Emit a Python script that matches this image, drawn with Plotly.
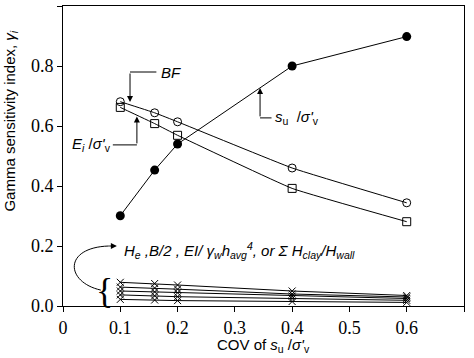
import plotly.graph_objects as go

cov = [0.1, 0.16, 0.2, 0.4, 0.6]
bf = [0.681, 0.644, 0.614, 0.460, 0.344]
ei = [0.662, 0.608, 0.569, 0.392, 0.281]
su = [0.301, 0.453, 0.540, 0.800, 0.898]
small1 = [0.079, 0.075, 0.070, 0.050, 0.035]
small2 = [0.063, 0.060, 0.056, 0.040, 0.030]
small3 = [0.050, 0.047, 0.044, 0.033, 0.025]
small4 = [0.037, 0.034, 0.031, 0.025, 0.019]
small5 = [0.022, 0.020, 0.018, 0.015, 0.012]

xticks = [0, 0.1, 0.2, 0.3, 0.4, 0.5, 0.6, 0.7]
xticklabels = ["0", "0.1", "0.2", "0.3", "0.4", "0.5", "0.6", "0.7"]
yticks = [0, 0.2, 0.4, 0.6, 0.8, 1.0]
yticklabels = ["0.0", "0.2", "0.4", "0.6", "0.8", "1.0"]

fig = go.Figure()
curve = dict(color="black", width=1, shape="spline", smoothing=0.3)
straight = dict(color="black", width=1)
fig.add_trace(go.Scatter(x=cov, y=bf, mode="lines+markers", line=curve,
                         marker=dict(symbol="circle-open", size=8, color="black", line=dict(width=1))))
fig.add_trace(go.Scatter(x=cov, y=ei, mode="lines+markers", line=curve,
                         marker=dict(symbol="square-open", size=8, color="black", line=dict(width=1))))
fig.add_trace(go.Scatter(x=cov, y=su, mode="lines+markers", line=straight,
                         marker=dict(symbol="circle", size=9, color="black")))
for s in [small1, small2, small3, small4, small5]:
    fig.add_trace(go.Scatter(x=cov, y=s, mode="lines+markers", line=straight,
                             marker=dict(symbol="x-thin-open", size=7, color="black",
                                         line=dict(width=1, color="black"))))

lw = dict(color="black", width=1)
arr = dict(showarrow=True, arrowhead=2, arrowsize=1.2, arrowwidth=1, arrowcolor="black",
           text="", axref="x", ayref="y")
sans = "Liberation Sans, Arial"
# BF leader
fig.add_shape(type="line", x0=0.117, y0=0.78, x1=0.163, y1=0.78, line=lw)
fig.add_annotation(x=0.117, y=0.680, ax=0.117, ay=0.78, **arr)
fig.add_annotation(x=0.168, y=0.78, text="<i>BF</i>", showarrow=False, xanchor="left",
                   font=dict(family=sans, size=15, color="black"))
# Ei leader
fig.add_shape(type="line", x0=0.087, y0=0.537, x1=0.129, y1=0.537, line=lw)
fig.add_annotation(x=0.129, y=0.632, ax=0.129, ay=0.537, **arr)
fig.add_annotation(x=0.087, y=0.537, text="<i>E<sub>i</sub></i> /<i>σ'</i><sub>v</sub>",
                   showarrow=False, xanchor="right",
                   font=dict(family=sans, size=15, color="black"))
# su leader
fig.add_shape(type="line", x0=0.344, y0=0.627, x1=0.364, y1=0.627, line=lw)
fig.add_annotation(x=0.344, y=0.727, ax=0.344, ay=0.627, **arr)
fig.add_annotation(x=0.367, y=0.627, text="<i>s</i><sub>u</sub>  /<i>σ'</i><sub>v</sub>",
                   showarrow=False, xanchor="left",
                   font=dict(family=sans, size=15, color="black"))
# small-series label
fig.add_annotation(x=0.103, y=0.185,
                   text="<i>H<sub>e</sub> ,B/2 , EI/ γ<sub>w</sub>h<sub>avg</sub><sup>4</sup>, or Σ H<sub>clay</sub>/H<sub>wall</sub></i>",
                   showarrow=False, xanchor="left",
                   font=dict(family=sans, size=15, color="black"))
fig.add_annotation(x=0.073, y=0.05, text="{", showarrow=False,
                   font=dict(family="Liberation Serif", size=36, color="black"))
fig.add_shape(type="path", path="M 0.066,0.053 C 0.004,0.08 0.0,0.195 0.08,0.2",
              line=lw, xref="x", yref="y")
fig.add_annotation(x=0.094, y=0.2, ax=0.078, ay=0.2, **arr)

# axis titles
fig.add_annotation(xref="paper", yref="paper", x=0.5, y=-0.133, yanchor="middle",
                   text="COV of <i>s</i><sub>u</sub> /<i>σ'</i><sub>v</sub>", showarrow=False,
                   font=dict(family=sans, size=15, color="black"))
fig.add_annotation(xref="paper", yref="paper", x=-0.132, y=0.615, xanchor="center",
                   yanchor="middle", textangle=-90,
                   text="Gamma sensitivity index, <i>γ<sub>i</sub></i>", showarrow=False,
                   font=dict(family=sans, size=15, color="black"))

fig.update_layout(
    width=474, height=358, showlegend=False,
    margin=dict(l=63, r=10, t=6, b=52, autoexpand=False),
    plot_bgcolor="white", paper_bgcolor="white",
    xaxis=dict(range=[0, 0.7], tickvals=xticks, ticktext=xticklabels, ticks="outside",
               ticklen=5, tickcolor="black", showline=True, linecolor="black", linewidth=1,
               mirror=True, showgrid=False, zeroline=False, automargin=False,
               tickfont=dict(family="Liberation Serif", size=18, color="black")),
    yaxis=dict(range=[0, 1.0], tickvals=yticks, ticktext=yticklabels, ticks="outside",
               ticklen=5, tickcolor="black", showline=True, linecolor="black", linewidth=1,
               mirror=True, showgrid=False, zeroline=False, automargin=False,
               tickfont=dict(family="Liberation Serif", size=18, color="black")),
)
fig.write_html("out.html", config={"displayModeBar": False},
               post_script="document.body.style.margin='0';document.body.style.padding='0';")
